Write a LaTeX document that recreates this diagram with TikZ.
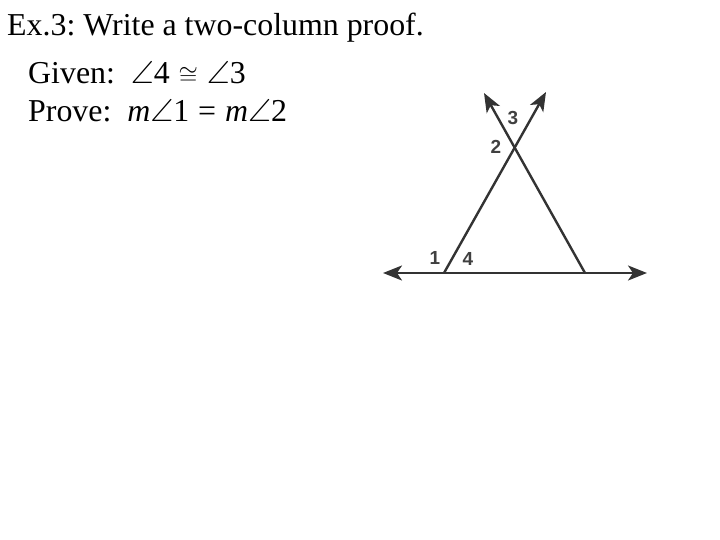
\documentclass[tikz,border=0pt]{standalone}
\usepackage{amssymb}
\usepackage{fontspec}
\setmainfont{Liberation Serif}
\setsansfont{Liberation Sans}
\usetikzlibrary{arrows.meta,positioning}
\tikzset{
    %Define standard arrow tip
    >={Stealth[length=19bp,width=15bp,inset=5bp]},
    %Define style for text lines
    heading/.style={
           anchor=base west,
           inner sep=0pt,
           font=\frenchspacing\fontsize{32}{36}\selectfont},
    statement/.style={
           anchor=base west,
           inner sep=0pt,
           font=\frenchspacing\fontsize{32}{36}\selectfont},
    %Define style for angle numbers
    anglenum/.style={
           inner sep=0pt,
           font=\sffamily\bfseries\fontsize{19}{20}\selectfont,
           text=black!75},
    % Define line style
    ray/.style={
           line width=2.4bp,
           black!80}
}
\begin{document}
\begin{tikzpicture}[x=1bp,y=-1bp]
\useasboundingbox (0,0) rectangle (720,540);
 %text
\node[heading](title) at (7,36){Ex.3: Write a two-column proof.};
\node[statement](given) at (28,84){Given:\ \ $\angle$4\;$\cong$\;$\angle$3};
\node[statement](prove) at (28,122){Prove:\ \ \textit{m}$\angle$1\;=\;\textit{m}$\angle$2};
 %points
\coordinate (L) at (444,273);
\coordinate (R) at (585,273);
\coordinate (W) at (383,273);
\coordinate (E) at (647,273);
\coordinate (NE) at (546,92);
\coordinate (NW) at (484,93);
 %lines
\draw[ray,<->] (W) -- (E);
\draw[ray,->] (L) -- (NE);
\draw[ray,->] (R) -- (NW);
 %angle numbers
\node[anglenum](n3) at (513,118){3};
\node[anglenum](n2) at (496,147){2};
\node[anglenum](n1) at (435,258){1};
\node[anglenum](n4) at (468,259){4};
\end{tikzpicture}
\end{document}
